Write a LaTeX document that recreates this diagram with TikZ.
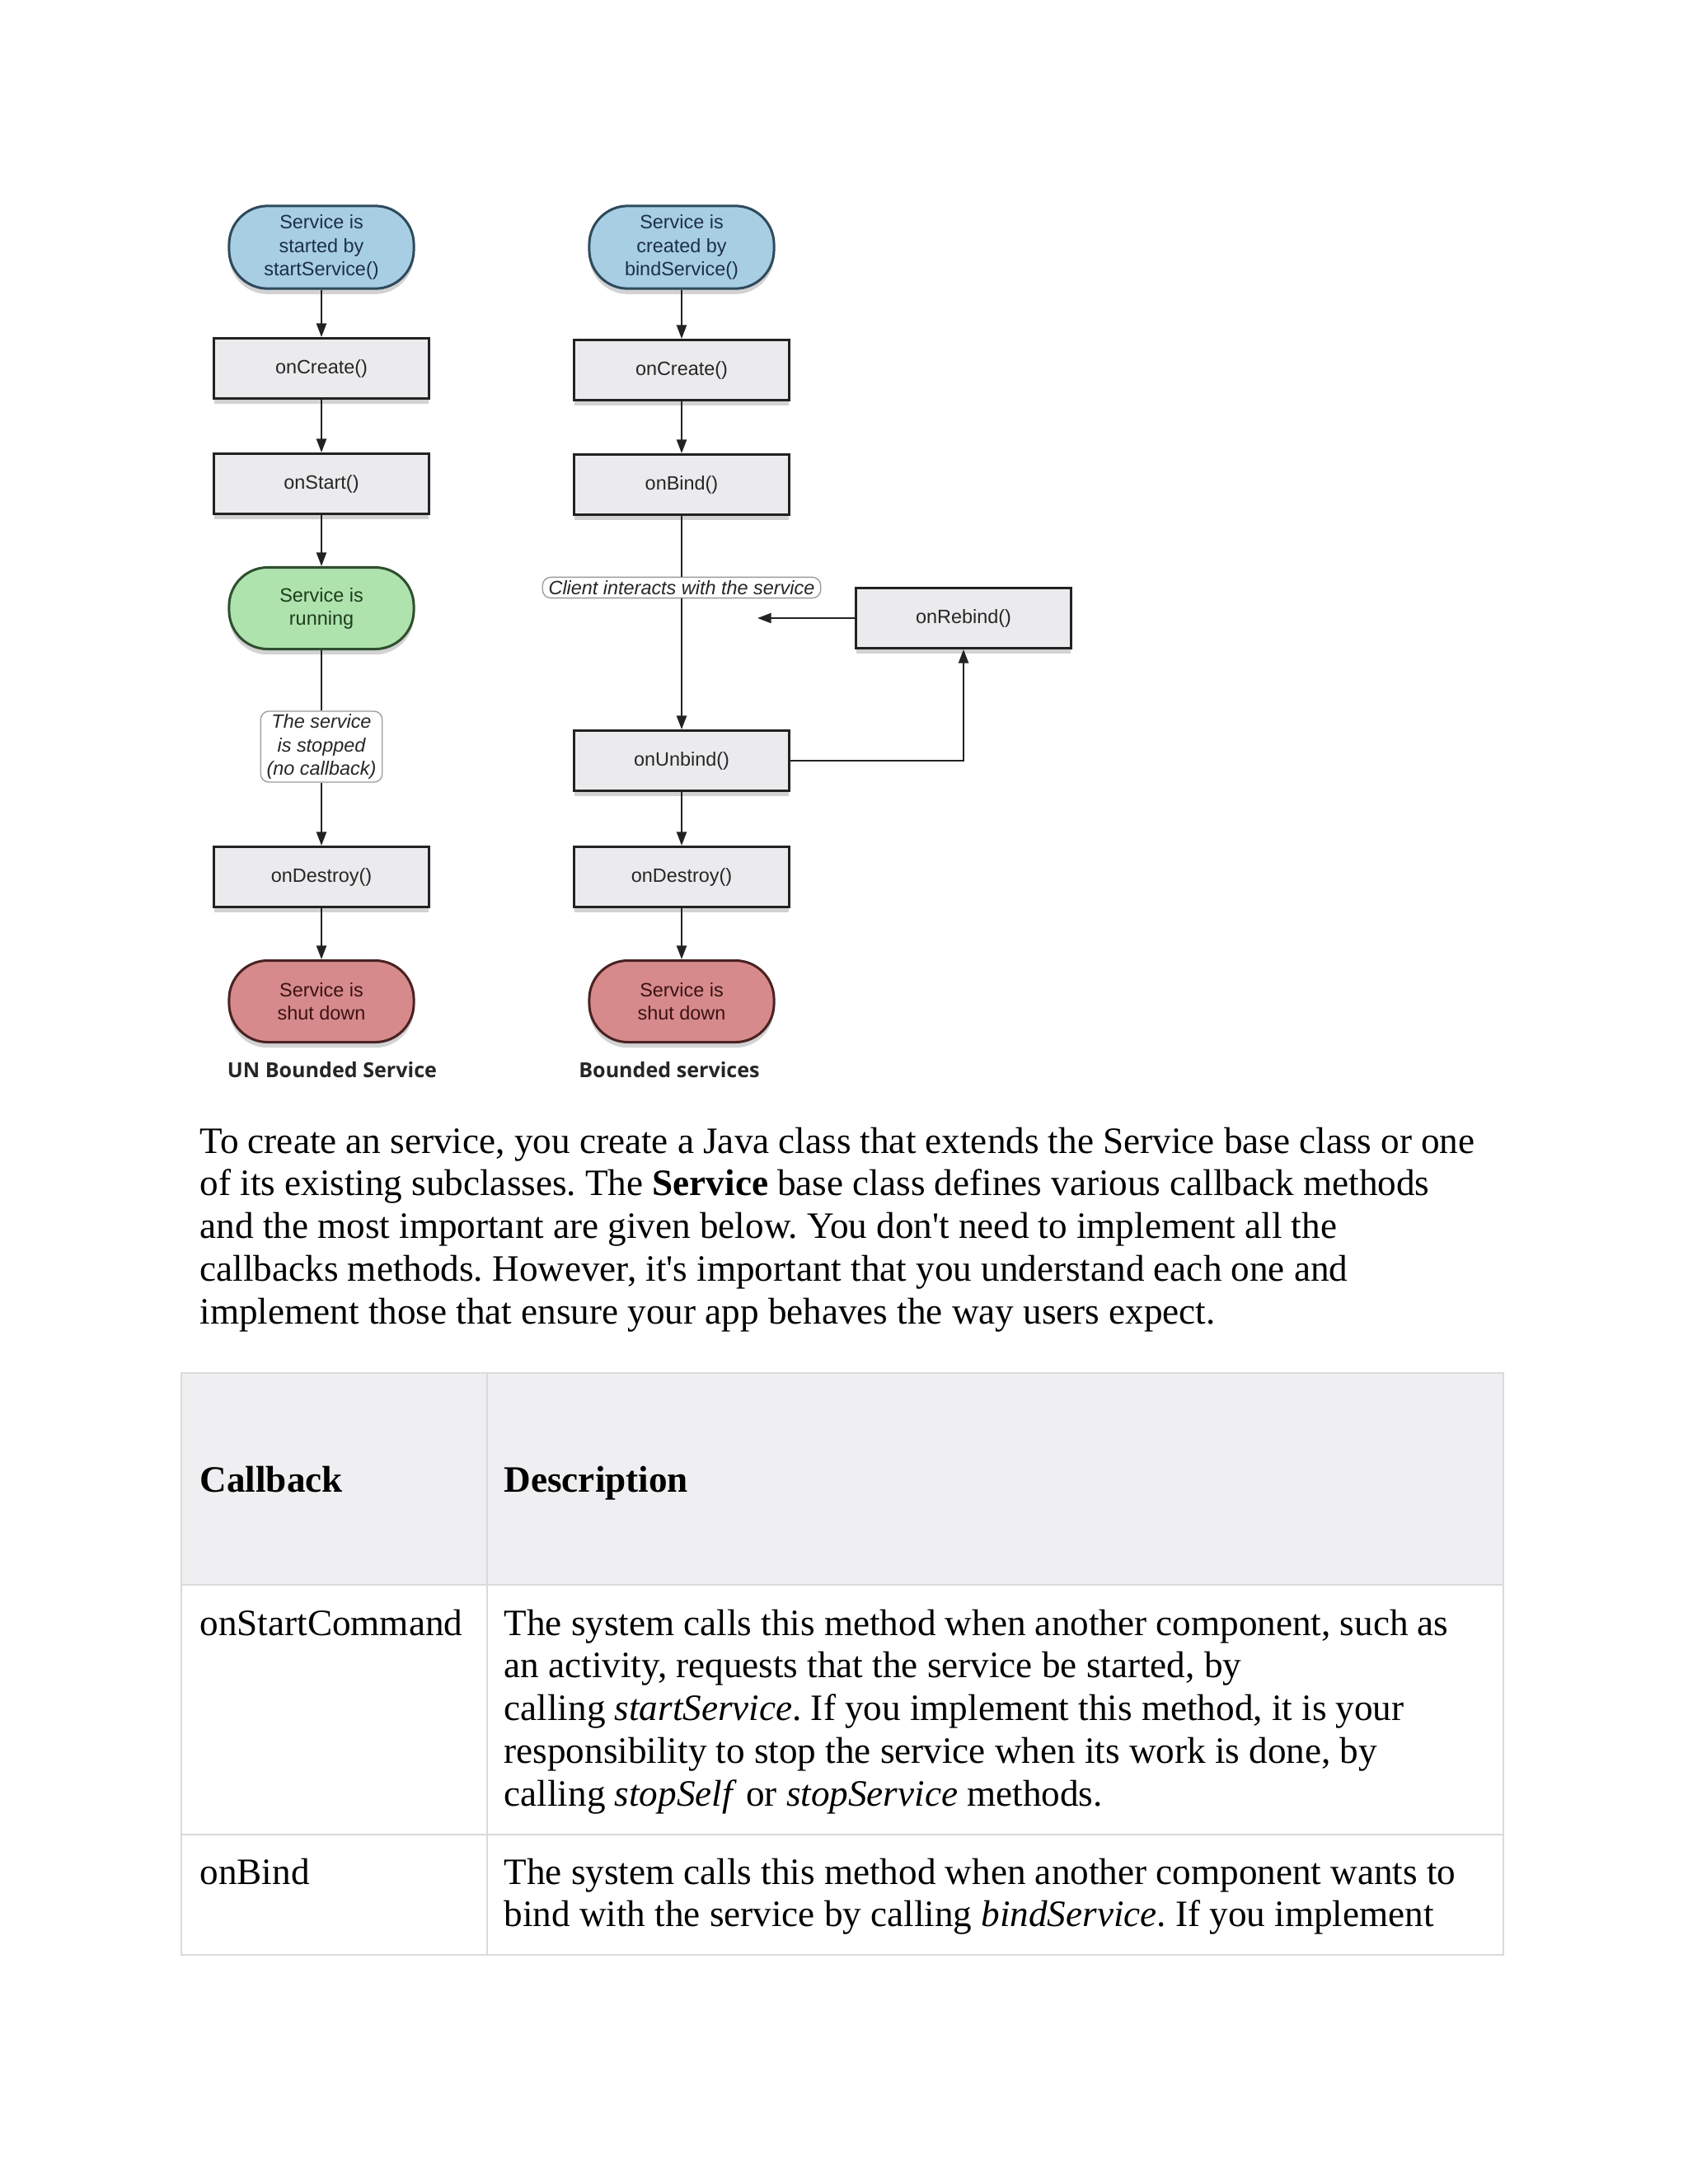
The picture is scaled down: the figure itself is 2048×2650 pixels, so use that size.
\documentclass[tikz,border=0pt]{standalone}
\usepackage{fontspec}
\setmainfont{Liberation Serif}
\setsansfont{Liberation Sans}
\newfontfamily\captionfont{Open Sans}
\usetikzlibrary{shadows,arrows.meta}
\frenchspacing
\newcommand\narrowspaces{\spaceskip=3.35pt plus 1pt minus 0.5pt\relax}

\definecolor{startfill}{HTML}{A8CEE4}
\definecolor{startline}{HTML}{2E4A5C}
\definecolor{starttext}{HTML}{1C3044}
\definecolor{runfill}{HTML}{AEE3AE}
\definecolor{runline}{HTML}{2F4F2F}
\definecolor{runtext}{HTML}{1E3B1E}
\definecolor{endfill}{HTML}{D68A8C}
\definecolor{endline}{HTML}{4A2222}
\definecolor{endtext}{HTML}{3B1212}
\definecolor{boxfill}{HTML}{EBEBED}
\definecolor{boxline}{HTML}{222222}
\definecolor{noteline}{HTML}{9A9A9A}
\definecolor{headfill}{HTML}{EFEFF1}
\definecolor{gridline}{HTML}{DADADC}

\tikzset{
  flowbox/.style={draw=boxline, fill=boxfill, line width=0.9pt,
    minimum width=78pt, minimum height=21.8pt, text=black!85,
    font=\sffamily\fontsize{7}{8.4}\selectfont,
    drop shadow={shadow xshift=0pt, shadow yshift=-2pt, opacity=.35}},
  pill/.style={rounded corners=14pt, line width=0.9pt, align=center,
    minimum width=67pt, minimum height=29.6pt,
    font=\sffamily\fontsize{7}{8.4}\selectfont,
    drop shadow={shadow xshift=0pt, shadow yshift=-2pt, opacity=.35}},
  startpill/.style={pill, fill=startfill, draw=startline, text=starttext},
  runpill/.style={pill, fill=runfill, draw=runline, text=runtext},
  endpill/.style={pill, fill=endfill, draw=endline, text=endtext},
  note/.style={draw=noteline, fill=white, rounded corners=3pt, align=center,
    inner xsep=2.2pt, inner ysep=1.2pt, text=black!85,
    font=\sffamily\itshape\fontsize{7}{8.4}\selectfont},
  caption/.style={font=\captionfont\bfseries\fontsize{7.5}{9}\selectfont, text=black!85},
  flow/.style={line width=0.7pt, draw=boxline, -{Triangle[length=5pt,width=3.6pt]}},
  flowline/.style={line width=0.7pt, draw=boxline},
  bodytext/.style={font=\fontsize{13.5}{15.5}\selectfont,
    align=left, inner sep=0pt, text width=540pt},
}

\begin{document}
\begin{tikzpicture}[x=0.2989pt, y=-0.2989pt]
\useasboundingbox (0,0) rectangle (2048,2650);
\fill[white] (0,0) rectangle (2048,2650);

% unbounded service
\node[startpill] (ustart) at (390,300) {Service is\\started by\\startService()};
\node[flowbox] (ucreate) at (390,447) {onCreate()};
\node[flowbox] (ustartcb) at (390,587) {onStart()};
\node[runpill] (urun) at (390,738) {Service is\\running};
\node[note] (ustop) at (390,906) {The service\\is stopped\\(no callback)};
\node[flowbox] (udestroy) at (390,1064) {onDestroy()};
\node[endpill] (uend) at (390,1215) {Service is\\shut down};
\node[caption] (ucap) at (403,1298) {UN Bounded Service};

\draw[flow] (ustart) -- (ucreate);
\draw[flow] (ucreate) -- (ustartcb);
\draw[flow] (ustartcb) -- (urun);
\draw[flowline] (urun) -- (ustop);
\draw[flow] (ustop) -- (udestroy);
\draw[flow] (udestroy) -- (uend);

% bounded service
\node[startpill] (bstart) at (827,300) {Service is\\created by\\bindService()};
\node[flowbox] (bcreate) at (827,449) {onCreate()};
\node[flowbox] (bbind) at (827,588) {onBind()};
\node[note] (bclient) at (827,713) {Client interacts with the service};
\node[flowbox] (brebind) at (1169,750) {onRebind()};
\coordinate (bback) at (919,750);
\node[flowbox] (bunbind) at (827,923) {onUnbind()};
\node[flowbox] (bdestroy) at (827,1064) {onDestroy()};
\node[endpill] (bend) at (827,1215) {Service is\\shut down};
\node[caption] (bcap) at (812,1298) {Bounded services};

\draw[flow] (bstart) -- (bcreate);
\draw[flow] (bcreate) -- (bbind);
\draw[flowline] (bbind) -- (bclient);
\draw[flow] (bclient) -- (bunbind);
\draw[flow] (bunbind) -| (brebind);
\draw[flow] (brebind) -- (bback);
\draw[flow] (bunbind) -- (bdestroy);
\draw[flow] (bdestroy) -- (bend);

% text
\node[bodytext, anchor=base west] (intro) at (242,1399) {\narrowspaces To create an service, you create a Java class that extends the Service base class or one\\
of its existing subclasses. The \textbf{Service} base class defines various callback methods\\
and the most important are given below. You don\textquotesingle t need to implement all the\\
callbacks methods. However, it\textquotesingle s important that you understand each one and\\
implement those that ensure your app behaves the way users expect.};

% table
\fill[headfill] (220,1666) rectangle (1824,1923);
\draw[gridline, line width=0.6pt] (220,1666) rectangle (1824,2372);
\draw[gridline, line width=0.6pt] (591,1666) -- (591,2372);
\draw[gridline, line width=0.6pt] (220,1923) -- (1824,1923) (220,2226) -- (1824,2226);

\node[bodytext, text width=100pt, anchor=base west] (headcb) at (242,1810) {\textbf{Callback}};
\node[bodytext, text width=100pt, anchor=base west] (headdesc) at (611,1810) {\textbf{Description}};
\node[bodytext, text width=100pt, anchor=base west] (startcb) at (242,1984) {onStartCommand};
\node[bodytext, text width=360pt, anchor=base west] (startdesc) at (611,1984) {\narrowspaces The system calls this method when another component, such as\\
an activity, requests that the service be started, by\\
calling \textit{startService}. If you implement this method, it is your\\
responsibility to stop the service when its work is done, by\\
calling \textit{stopSelf} or \textit{stopService} methods.};
\node[bodytext, text width=100pt, anchor=base west] (bindcb) at (242,2286) {onBind};
\node[bodytext, text width=360pt, anchor=base west] (binddesc) at (611,2286) {\narrowspaces The system calls this method when another component wants to\\
bind with the service by calling \textit{bindService}. If you implement};
\end{tikzpicture}
\end{document}
